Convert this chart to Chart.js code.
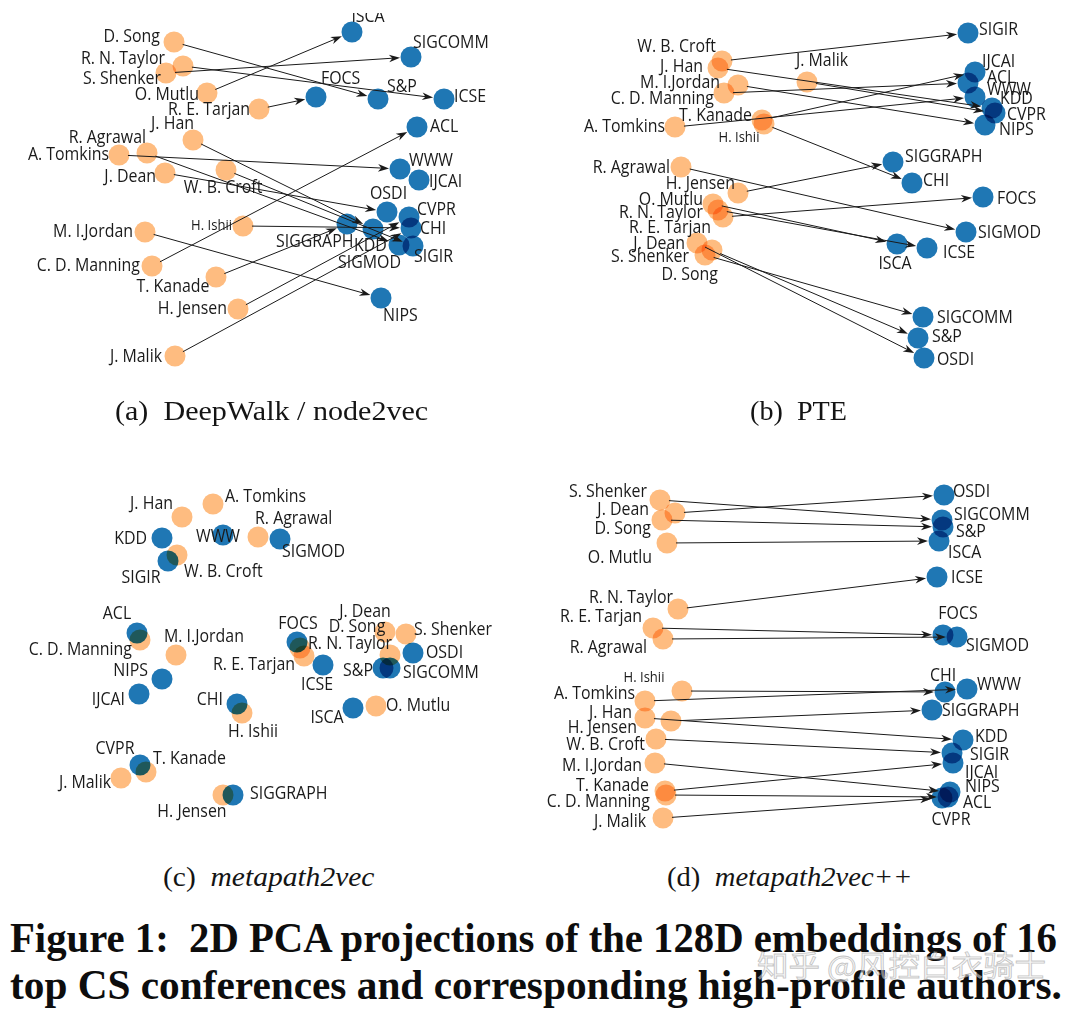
<!DOCTYPE html>
<html>
<head>
<meta charset="utf-8">
<script src="https://cdn.jsdelivr.net/npm/chart.js@4.4.1/dist/chart.umd.min.js"></script>
<style>
    html, body { margin: 0; padding: 0; background: #fff; }
    #page { position: relative; width: 1074px; height: 1009px; overflow: hidden; }
    #graphique { position: absolute; left: 0; top: 0; }
    .legende { position: absolute; white-space: nowrap; font-family: 'Liberation Serif', 'DejaVu Serif', serif; font-size: 27px; color: #141414; transform-origin: 0 50%; line-height: 1; }
    .legende i { font-style: italic; }
    .titre { position: absolute; white-space: nowrap; font-family: 'Liberation Serif', serif; font-weight: bold; font-size: 42px; color: #0d0d0d; transform-origin: 0 50%; line-height: 1; }
    #filigrane { position: absolute; white-space: nowrap; font-family: 'Noto Sans CJK SC', sans-serif; font-size: 29px; color: rgba(235, 235, 235, 0.55); -webkit-text-stroke: 0.8px rgba(150, 150, 150, 0.55); line-height: 1; }
</style>
</head>
<body>
<div id="page">
    <canvas id="graphique" width="1074" height="860"></canvas>
    <div class="legende" data-cx="271" data-cy="411" data-w="313">(a)&nbsp; DeepWalk / node2vec</div>
    <div class="legende" data-cx="798" data-cy="411" data-w="97">(b)&nbsp; PTE</div>
    <div class="legende" data-cx="268" data-cy="877" data-w="211">(c)&nbsp; <i>metapath2vec</i></div>
    <div class="legende" data-cx="789" data-cy="877" data-w="245">(d)&nbsp; <i>metapath2vec++</i></div>
    <div class="titre" data-x="10" data-cy="938" data-w="1047">Figure 1:&nbsp; 2D PCA projections of the 128D embeddings of 16</div>
    <div class="titre" data-x="10" data-cy="985" data-w="1052">top CS conferences and corresponding high-profile authors.</div>
    <div id="filigrane">知乎 @风控白衣骑士</div>
</div>
<script>
const auteurs = ['D. Song', 'R. N. Taylor', 'S. Shenker', 'O. Mutlu', 'R. E. Tarjan', 'J. Han', 'R. Agrawal', 'A. Tomkins',
    'J. Dean', 'W. B. Croft', 'H. Ishii', 'M. I.Jordan', 'C. D. Manning', 'T. Kanade', 'H. Jensen', 'J. Malik'];
const conferences = ['ISCA', 'SIGCOMM', 'FOCS', 'S&P', 'ICSE', 'ACL', 'WWW', 'IJCAI', 'OSDI', 'CVPR', 'SIGGRAPH', 'CHI',
    'KDD', 'SIGMOD', 'SIGIR', 'NIPS'];

// conférence visée par la flèche de chaque auteur
const flechesStandard = ['S&P', 'ICSE', 'SIGCOMM', 'ISCA', 'FOCS', 'KDD', 'SIGMOD', 'WWW', 'OSDI', 'SIGIR', 'CHI', 'NIPS',
    'ACL', 'IJCAI', 'SIGGRAPH', 'CVPR'];
const flechesDeepwalk = ['S&P', 'ICSE', 'SIGCOMM', 'ISCA', 'FOCS', 'KDD', 'SIGMOD', 'WWW', 'OSDI', 'SIGIR', 'CHI', 'NIPS',
    'ACL', 'SIGGRAPH', 'CVPR', 'CHI'];

// (a) DeepWalk / node2vec
const deepwalkAuteurs = [[174, 42], [183, 66], [166, 73], [207, 93], [259, 109], [193, 140], [147, 153], [119, 155],
    [165, 173], [226, 170], [243, 226], [145, 232], [152, 266], [216, 277], [238, 309], [175, 356]];
const deepwalkConfs = [[352, 32], [411, 57], [316, 97], [378, 99], [444, 99], [417, 127], [400, 169], [419, 180],
    [387, 212], [409, 217], [347, 224], [411, 228], [373, 229], [399, 245], [413, 246], [381, 298]];

// (b) PTE
const pteAuteurs = [[712, 250], [718, 210], [705, 255], [713, 204], [723, 217], [718, 68], [681, 167], [675, 127],
    [697, 243], [722, 61], [764, 124], [738, 85], [724, 93], [762, 120], [738, 193], [807, 82]];
const pteConfs = [[897, 244], [923, 317], [983, 197], [918, 338], [927, 248], [968, 83], [975, 97], [975, 72],
    [924, 358], [995, 113], [893, 162], [912, 183], [992, 108], [966, 232], [968, 33], [985, 125]];

// (c) metapath2vec
const mp2vAuteurs = [[390, 655], [300, 648], [406, 634], [376, 706], [304, 656], [182, 517], [258, 537], [213, 504],
    [385, 632], [177, 555], [242, 713], [176, 655], [140, 640], [146, 772], [223, 795], [121, 778]];
const mp2vConfs = [[353, 708], [390, 668], [297, 642], [383, 668], [323, 665], [137, 633], [223, 535], [139, 694],
    [413, 653], [140, 765], [233, 795], [237, 704], [162, 538], [280, 539], [168, 561], [162, 679]];

// (d) metapath2vec++
const mp2vppAuteurs = [[662, 520], [678, 609], [660, 500], [667, 543], [653, 628], [645, 718], [663, 639], [645, 701],
    [675, 513], [656, 739], [682, 691], [655, 763], [666, 795], [665, 791], [671, 721], [663, 818]];
const mp2vppConfs = [[939, 541], [942, 520], [943, 635], [943, 527], [937, 577], [948, 797], [967, 689], [953, 763],
    [944, 495], [942, 798], [932, 710], [945, 692], [963, 740], [957, 637], [952, 753], [950, 792]];

// décalages des étiquettes par rapport au point : [dx, dy, alignement, taille]
const etiqDeepwalkAuteurs = [[-14, -5, 'right'], [-18, -7, 'right'], [-5, 6, 'right'], [-8, 2, 'right'], [-9, 1, 'right'],
    [1, -16, 'right'], [-1, -15, 'right'], [-10, 0, 'right'], [-9, 4, 'right'], [-3, 18, 'center'], [-11, 0, 'right', 14.5],
    [-12, 0, 'right'], [-12, 0, 'right'], [-43, 10, 'center'], [-11, 0, 'right'], [-13, 1, 'right']];
const etiqDeepwalkConfs = [[16, -15, 'center'], [2, -14, 'left'], [5, -18, 'left'], [9, -12, 'left'], [10, -2, 'left'],
    [13, 0, 'left'], [9, -8, 'left'], [10, 2, 'left'], [-17, -18, 'left'], [8, -7, 'left'], [-71, 18, 'left'], [9, 1, 'left'],
    [-19, 17, 'left'], [-61, 18, 'left'], [1, 11, 'left'], [2, 18, 'left']];
const etiqPteAuteurs = [[6, 25, 'right'], [-15, 3, 'right'], [-16, 2, 'right'], [-10, -4, 'right'], [-12, 11, 'right'],
    [-15, -1, 'right'], [-11, 1, 'right'], [-10, 0, 'right'], [-12, 1, 'right'], [-6, -14, 'right'], [-25, 14, 'center', 14.5],
    [-18, -2, 'right'], [-10, 6, 'right'], [-10, -4, 'right'], [-3, -9, 'right'], [15, -21, 'center']];
const etiqPteConfs = [[-2, 20, 'center'], [14, 1, 'left'], [14, 2, 'left'], [14, -1, 'left'], [16, 5, 'left'],
    [19, -5, 'left'], [12, -7, 'left'], [7, -10, 'left'], [13, 2, 'left'], [12, 2, 'left'], [12, -5, 'left'], [11, -2, 'left'],
    [8, -9, 'left'], [12, 1, 'left'], [11, -3, 'left'], [14, 5, 'left']];
const etiqMp2vAuteurs = [[-33, -28, 'center'], [8, -4, 'left'], [8, -4, 'left'], [10, 0, 'left'], [-9, 9, 'right'],
    [-9, -13, 'right'], [-3, -18, 'left'], [12, -7, 'left'], [-20, -20, 'center'], [7, 17, 'left'], [11, 19, 'center'],
    [-12, -18, 'left'], [-8, 10, 'right'], [7, -13, 'left'], [-31, 17, 'center'], [-10, 5, 'right']];
const etiqMp2vConfs = [[-26, 10, 'center'], [13, 5, 'left'], [1, -18, 'center'], [-10, 3, 'right'], [-6, 20, 'center'],
    [-20, -19, 'center'], [-5, 2, 'center'], [-14, 6, 'right'], [13, 0, 'left'], [-25, -16, 'center'], [17, -1, 'left'],
    [-14, -4, 'right'], [-15, 1, 'right'], [2, 13, 'left'], [-27, 17, 'center'], [-14, -8, 'right']];
const etiqMp2vppAuteurs = [[-11, 9, 'right'], [-5, -11, 'right'], [-13, -8, 'right'], [-15, 15, 'right'], [-11, -11, 'right'],
    [-13, -5, 'right'], [-16, 9, 'right'], [-10, -7, 'right'], [-26, -3, 'right'], [-11, 6, 'right'], [-38, -13, 'center', 14.5],
    [-13, 3, 'right'], [-16, 7, 'right'], [-16, -5, 'right'], [-34, 7, 'right'], [-17, 4, 'right']];
const etiqMp2vppConfs = [[9, 12, 'left'], [12, -5, 'left'], [15, -21, 'center'], [13, 5, 'left'], [14, 1, 'left'],
    [15, 6, 'left'], [10, -4, 'left'], [12, 10, 'left'], [9, -3, 'left'], [9, 22, 'center'], [10, 1, 'left'], [-2, -16, 'center'],
    [12, -3, 'left'], [9, 9, 'left'], [18, 2, 'left'], [15, -5, 'left']];

const panneaux = [
    {auteurs: deepwalkAuteurs, confs: deepwalkConfs, etiqA: etiqDeepwalkAuteurs, etiqC: etiqDeepwalkConfs, fleches: flechesDeepwalk, clipHaut: 13},
    {auteurs: pteAuteurs, confs: pteConfs, etiqA: etiqPteAuteurs, etiqC: etiqPteConfs, fleches: flechesStandard, clipHaut: 0},
    {auteurs: mp2vAuteurs, confs: mp2vConfs, etiqA: etiqMp2vAuteurs, etiqC: etiqMp2vConfs, fleches: null, clipHaut: 0},
    {auteurs: mp2vppAuteurs, confs: mp2vppConfs, etiqA: etiqMp2vppAuteurs, etiqC: etiqMp2vppConfs, fleches: flechesStandard, clipHaut: 0}
];

const ORANGE = 'rgb(254, 188, 128)';
const BLEU = 'rgb(31, 119, 180)';
const RAYON = 10.5;

/**
 * Dessine une étiquette, légèrement resserrée pour imiter la police d'origine
 */
function dessinerEtiquette(ctx, texte, x, y, align, taille) {
    const resserrement = 0.87;
    ctx.save();
    ctx.font = (taille ? taille + 0.5 : 18.3) + 'px "Open Sans"';
    ctx.textAlign = align;
    ctx.textBaseline = 'middle';
    ctx.fillStyle = '#1a1a1a';
    ctx.translate(x, y);
    ctx.scale(resserrement, 1);
    ctx.fillText(texte, 0, 0);
    ctx.restore();
}

/**
 * Dessine une flèche d'un auteur vers sa conférence, entre les bords des cercles
 */
function dessinerFleche(ctx, x1, y1, x2, y2) {
    const dx = x2 - x1, dy = y2 - y1;
    const d = Math.sqrt(dx * dx + dy * dy);
    if (d < 1) return;
    const ux = dx / d, uy = dy / d;
    const sx = x1 + ux * 9, sy = y1 + uy * 9;
    const ex = x2 - ux * 11, ey = y2 - uy * 11;
    const longueur = 11, demi = 3.8;
    ctx.beginPath();
    ctx.moveTo(sx, sy);
    ctx.lineTo(ex - ux * longueur * 0.6, ey - uy * longueur * 0.6);
    ctx.stroke();
    ctx.beginPath();
    ctx.moveTo(ex, ey);
    ctx.lineTo(ex - ux * longueur - uy * demi, ey - uy * longueur + ux * demi);
    ctx.lineTo(ex - ux * longueur * 0.7, ey - uy * longueur * 0.7);
    ctx.lineTo(ex - ux * longueur + uy * demi, ey - uy * longueur - ux * demi);
    ctx.closePath();
    ctx.fill();
}

const pluginAnnotations = {
    id: 'annotations',
    beforeDatasetsDraw(chart) {
        chart.ctx.save();
        chart.ctx.globalCompositeOperation = 'multiply';
    },
    afterDatasetsDraw(chart) {
        const ctx = chart.ctx;
        ctx.restore();
        const sx = chart.scales.x, sy = chart.scales.y;
        const px = v => sx.getPixelForValue(v);
        const py = v => sy.getPixelForValue(v);

        ctx.save();
        ctx.strokeStyle = '#1a1a1a';
        ctx.fillStyle = '#1a1a1a';
        ctx.lineWidth = 1;
        panneaux.forEach(p => {
            if (!p.fleches) return;
            p.fleches.forEach((conf, i) => {
                const j = conferences.indexOf(conf);
                dessinerFleche(ctx, px(p.auteurs[i][0]), py(p.auteurs[i][1]), px(p.confs[j][0]), py(p.confs[j][1]));
            });
        });
        ctx.restore();

        panneaux.forEach(p => {
            ctx.save();
            ctx.beginPath();
            ctx.rect(0, p.clipHaut, chart.width, chart.height);
            ctx.clip();
            p.auteurs.forEach((pt, i) => {
                const e = p.etiqA[i];
                dessinerEtiquette(ctx, auteurs[i], px(pt[0]) + e[0], py(pt[1]) + e[1], e[2], e[3]);
            });
            p.confs.forEach((pt, i) => {
                const e = p.etiqC[i];
                dessinerEtiquette(ctx, conferences[i], px(pt[0]) + e[0], py(pt[1]) + e[1], e[2], e[3]);
            });
            ctx.restore();
        });
    }
};

const datasets = [];
panneaux.forEach(p => {
    datasets.push({
        data: p.auteurs.map(pt => ({x: pt[0], y: pt[1]})),
        backgroundColor: ORANGE,
        borderWidth: 0,
        pointRadius: RAYON
    });
    datasets.push({
        data: p.confs.map(pt => ({x: pt[0], y: pt[1]})),
        backgroundColor: BLEU,
        borderWidth: 0,
        pointRadius: RAYON
    });
});

const ctx = document.getElementById('graphique').getContext('2d');
new Chart(ctx, {
    type: 'scatter',
    data: {datasets: datasets},
    options: {
        responsive: false,
        animation: false,
        events: [],
        layout: {padding: 0, autoPadding: false},
        scales: {
            x: {type: 'linear', min: 0, max: 1074, display: false},
            y: {type: 'linear', min: 0, max: 860, reverse: true, display: false}
        },
        plugins: {
            legend: {display: false},
            tooltip: {enabled: false}
        }
    },
    plugins: [pluginAnnotations]
});

/**
 * Ajuste la largeur des textes HTML à celle mesurée sur l'image
 */
function ajusterTextes() {
    document.querySelectorAll('.legende').forEach(el => {
        const w = el.offsetWidth, h = el.offsetHeight;
        const cible = parseFloat(el.dataset.w);
        el.style.left = (parseFloat(el.dataset.cx) - cible / 2) + 'px';
        el.style.top = (parseFloat(el.dataset.cy) - h / 2) + 'px';
        el.style.transform = 'scaleX(' + (cible / w) + ')';
    });
    document.querySelectorAll('.titre').forEach(el => {
        const w = el.offsetWidth, h = el.offsetHeight;
        el.style.left = el.dataset.x + 'px';
        el.style.top = (parseFloat(el.dataset.cy) - h / 2) + 'px';
        el.style.transform = 'scaleX(' + (parseFloat(el.dataset.w) / w) + ')';
    });
    const f = document.getElementById('filigrane');
    f.style.left = '757px';
    f.style.top = (964 - f.offsetHeight / 2) + 'px';
    f.style.transform = 'scaleX(' + (289 / f.offsetWidth) + ')';
    f.style.transformOrigin = '0 50%';
}
ajusterTextes();
</script>
</body>
</html>
